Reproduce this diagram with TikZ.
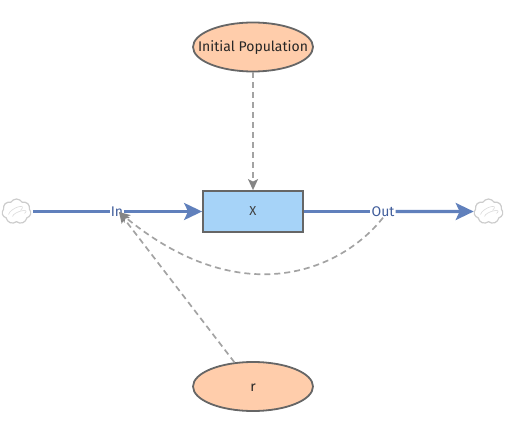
\documentclass[tikz,border=0pt]{standalone}
\usepackage{fontspec}
\setmainfont{Fira Sans}
\usepackage{tikz}
\usetikzlibrary{arrows.meta,shapes.geometric,shapes.symbols}
\definecolor{flowblue}{HTML}{6080BC}
\definecolor{textblue}{HTML}{3F5C9A}
\definecolor{stockblue}{HTML}{A6D3F8}
\definecolor{auxorange}{HTML}{FFCDAB}
\definecolor{edgegray}{HTML}{666666}
\definecolor{linkgray}{HTML}{A3A3A3}
\definecolor{cloudgray}{HTML}{CCCCCC}
\tikzset{
	aux/.style={ellipse,draw=edgegray,line width=1.8bp,fill=auxorange,minimum width=120bp,minimum height=49bp,inner xsep=-13bp,inner ysep=0pt,text height=10bp,text depth=0pt,font=\fontsize{14bp}{16bp}\selectfont,text=black!85},
	stock/.style={rectangle,draw=edgegray,line width=1.8bp,fill=stockblue,minimum width=100bp,minimum height=41bp,inner sep=0pt,font=\fontsize{13bp}{15bp}\selectfont,text=black!75},
	rate/.style={inner sep=1bp,text=textblue,font=\fontsize{14bp}{16bp}\selectfont},
	sink/.style={cloud,cloud puffs=7,cloud puff arc=120,aspect=1.15,draw=cloudgray,line width=1.2bp,fill=white,minimum width=29bp,minimum height=25bp,inner sep=0pt},
	wisp/.style={draw=cloudgray!70,line width=.6bp},
	flow/.style={draw=flowblue,line width=3.2bp},
	flowtip/.style={flow,-{Stealth[length=18bp,width=17bp,inset=4bp]}},
	link/.style={draw=linkgray,line width=1.7bp,dash pattern=on 6bp off 4bp,-{Stealth[length=11bp,width=10bp,inset=2.5bp,color=edgegray!80]}}
}
\begin{document}
\begin{tikzpicture}[x=1bp,y=-1bp]
	\useasboundingbox (0,0) rectangle (508,434);
	\node[aux] (pop) at (253,47) {Initial Population};
	\node[stock] (x) at (253,211.5) {X};
	\node[aux] (r) at (253,386.5) {r};
	\node[sink] (src) at (16.5,211.5) {};
	\node[sink] (dst) at (488.5,211.5) {};
	\node[rate] (in) at (117,211.5) {In};
	\node[rate] (out) at (383,211.5) {Out};
	\coordinate (srcend) at (33,211.5);
	\coordinate (intip) at (119,212);
	% cloud wisps
	\foreach \c in {src,dst}{
		\draw[wisp] (\c.center) ++(-8,3) .. controls +(2,-7) and +(8,-8) .. +(12,-4);
		\draw[wisp] (\c.center) ++(-4,5) .. controls +(1,-5) and +(7,-6) .. +(12,-3);
	}
	% flows
	\draw[flow] (srcend) -- (in);
	\draw[flowtip] (in) -- (x);
	\draw[flow] (x) -- (out);
	\draw[flowtip] (out) -- (dst);
	% links
	\draw[link] (pop) -- (x);
	\draw[link] (r) -- (intip);
	\draw[link] (out.south) .. controls (340,272) and (240,312) .. (intip);
\end{tikzpicture}
\end{document}
